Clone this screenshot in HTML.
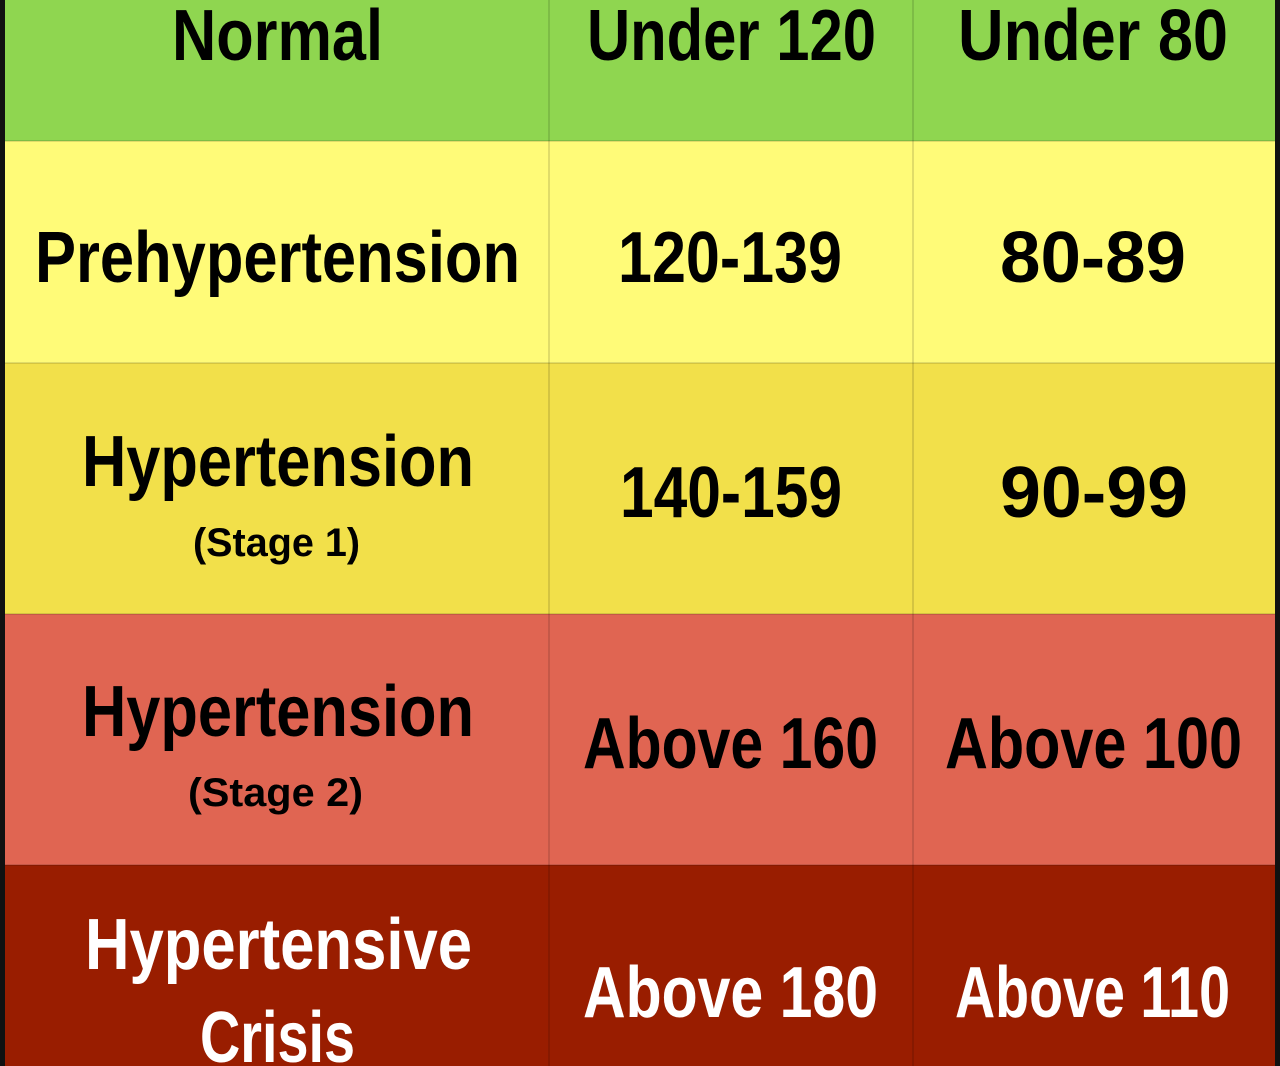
<!DOCTYPE html>
<html><head><meta charset="utf-8"><style>
html,body{margin:0;padding:0;background:#000;}
svg{display:block}
text{font-family:"Liberation Sans",sans-serif;font-weight:bold;}
</style></head><body>
<svg width="1280" height="1066" viewBox="0 0 1280 1066" xmlns="http://www.w3.org/2000/svg">
<rect x="0" y="0" width="1280" height="1066" fill="#111"/>
<rect x="5" y="0" width="1270" height="141" fill="#8fd650"/>
<rect x="5" y="141" width="1270" height="222" fill="#fffb78"/>
<rect x="5" y="363" width="1270" height="251" fill="#f2e04a"/>
<rect x="5" y="614" width="1270" height="251" fill="#e06552"/>
<rect x="5" y="865" width="1270" height="201" fill="#991d00"/>
<g stroke="#000" stroke-opacity="0.12" stroke-width="2">
<line x1="549" y1="0" x2="549" y2="1066"/><line x1="913" y1="0" x2="913" y2="1066"/>
<line x1="5" y1="141" x2="1275" y2="141"/><line x1="5" y1="363" x2="1275" y2="363"/>
<line x1="5" y1="614" x2="1275" y2="614"/><line x1="5" y1="865" x2="1275" y2="865"/>
</g>
<g fill="#000" font-size="72">
<text x="172" y="60" textLength="211" lengthAdjust="spacingAndGlyphs">Normal</text>
<text x="587" y="60" textLength="289" lengthAdjust="spacingAndGlyphs">Under 120</text>
<text x="958" y="60" textLength="270" lengthAdjust="spacingAndGlyphs">Under 80</text>
<text x="35" y="282" textLength="485" lengthAdjust="spacingAndGlyphs">Prehypertension</text>
<text x="618" y="282" textLength="224" lengthAdjust="spacingAndGlyphs">120-139</text>
<text x="1000" y="282" textLength="186" lengthAdjust="spacingAndGlyphs">80-89</text>
<text x="82" y="486" textLength="392" lengthAdjust="spacingAndGlyphs">Hypertension</text>
<text x="620" y="517" textLength="222" lengthAdjust="spacingAndGlyphs">140-159</text>
<text x="1000" y="517" textLength="188" lengthAdjust="spacingAndGlyphs">90-99</text>
<text x="82" y="736" textLength="392" lengthAdjust="spacingAndGlyphs">Hypertension</text>
<text x="583" y="768" textLength="295" lengthAdjust="spacingAndGlyphs">Above 160</text>
<text x="945" y="768" textLength="297" lengthAdjust="spacingAndGlyphs">Above 100</text>
</g>
<g fill="#000" font-size="40">
<text x="193" y="556" textLength="167" lengthAdjust="spacingAndGlyphs">(Stage 1)</text>
<text x="188" y="806" textLength="175" lengthAdjust="spacingAndGlyphs">(Stage 2)</text>
</g>
<g fill="#fff" font-size="72">
<text x="85" y="969" textLength="387" lengthAdjust="spacingAndGlyphs">Hypertensive</text>
<text x="200" y="1062" textLength="155" lengthAdjust="spacingAndGlyphs">Crisis</text>
<text x="583" y="1017" textLength="295" lengthAdjust="spacingAndGlyphs">Above 180</text>
<text x="955" y="1017" textLength="275" lengthAdjust="spacingAndGlyphs">Above 110</text>
</g>
</svg>
</body></html>
